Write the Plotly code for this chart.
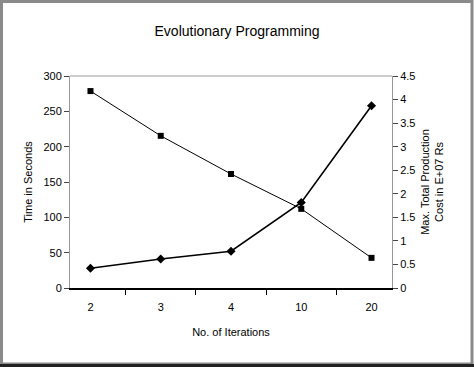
import plotly.graph_objects as go

iterations = ["2", "3", "4", "10", "20"]
time_seconds = [28, 41, 52, 121, 258]
max_cost = [4.18, 3.23, 2.42, 1.68, 0.64]

W, H = 474, 367
L, R, T, B = 70, 82, 76, 79
pw, ph = W - L - R, H - T - B

def px(x):
    return (x - L) / pw

def py(y):
    return (H - B - y) / ph

fnt = "Liberation Sans, Arial, sans-serif"

fig = go.Figure()
fig.add_trace(go.Scatter(
    x=iterations, y=time_seconds, mode="lines+markers", name="Time",
    line=dict(color="black", width=1.6),
    marker=dict(symbol="diamond", size=7, color="black"),
    yaxis="y", cliponaxis=False))
fig.add_trace(go.Scatter(
    x=iterations, y=max_cost, mode="lines+markers", name="Cost",
    line=dict(color="black", width=1),
    marker=dict(symbol="square", size=6, color="black"),
    yaxis="y2", cliponaxis=False))

fig.update_layout(
    width=W, height=H,
    margin=dict(l=L, r=R, t=T, b=B, autoexpand=False),
    paper_bgcolor="white", plot_bgcolor="white",
    showlegend=False,
    font=dict(family=fnt, size=11, color="black"),
    title=dict(text="Evolutionary Programming", x=0.5, xanchor="center",
               y=1 - 31 / H, yanchor="middle", automargin=False,
               font=dict(family=fnt, size=14, color="black")),
    xaxis=dict(type="category", tickson="boundaries", ticks="outside",
               ticklen=5, tickcolor="black", showline=True, linecolor="black",
               linewidth=1.5, showgrid=False, zeroline=False, mirror=False,
               automargin=False, ticklabelstandoff=8,
               title=dict(text="No. of Iterations", standoff=16,
                          font=dict(size=11))),
    yaxis=dict(range=[0, 300], dtick=50, ticks="outside", ticklen=5,
               tickcolor="#444", showline=True, linecolor="#999",
               showgrid=False, zeroline=False, automargin=False,
               title=dict(text="Time in Seconds", standoff=8,
                          font=dict(size=11))),
    yaxis2=dict(range=[0, 4.5], dtick=0.5, overlaying="y", side="right",
                ticks="outside", ticklen=5, tickcolor="#444",
                showline=True, linecolor="#999", showgrid=False,
                zeroline=False, automargin=False,
                title=dict(text="Max. Total Production<br>Cost in E+07 Rs",
                           standoff=6, font=dict(size=11))),
)

# top border of plot area
fig.add_shape(type="line", xref="paper", yref="paper", x0=0, x1=1, y0=1, y1=1,
              line=dict(color="#999", width=1))
# outer frame
fig.add_shape(type="rect", xref="paper", yref="paper",
              x0=px(1.5), x1=px(472), y0=py(1.5), y1=py(364),
              line=dict(color="#8a8a8a", width=3), layer="above")
fig.add_shape(type="line", xref="paper", yref="paper",
              x0=px(0), x1=px(474), y0=py(365.5), y1=py(365.5),
              line=dict(color="#222", width=3), layer="above")

fig.write_html("out.html",
               config={"displayModeBar": False},
               post_script="document.body.style.margin='0';"
                           "document.body.style.overflow='hidden';")
